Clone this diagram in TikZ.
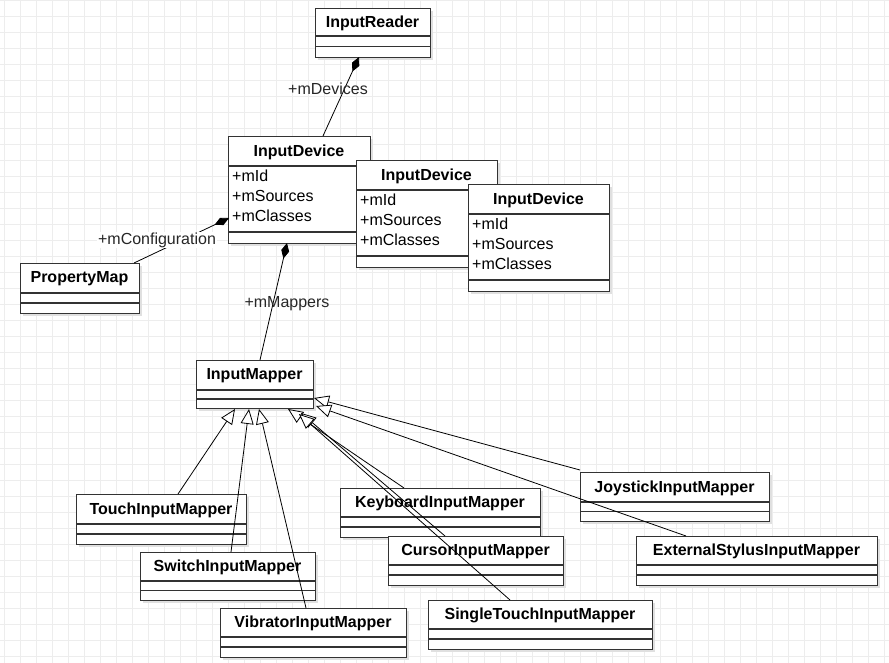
\documentclass[tikz,border=0pt]{standalone}
\usepackage{fontspec}
\setmainfont{Liberation Sans}
\usetikzlibrary{arrows.meta}
\newcommand{\umlbox}[8]{% name x1 y1 x2 y2 hdrbottom title attrs
  \fill[black!12] (#2+3,#3+3) rectangle (#4+3,#5+3);
  \node[box, minimum width={(#4-#2)*1pt}, minimum height={(#5-#3)*1pt}, anchor=north west] (#1) at (#2,#3) {};
  \node[title] at ({(#2+#4)/2},{#3+(#6-#3)/2+1}) {#7};
  \ifx&#8&
    \draw[sep] (#2,#6) -- (#4,#6);
    \draw[sep] (#2,{(#6+#5)/2}) -- (#4,{(#6+#5)/2});
  \else
    \draw[sep] (#2,#6) -- (#4,#6);
    \node[attr, anchor=north west] at (#2+2,#6+2) {#8};
    \draw[sep] (#2,#5-11) -- (#4,#5-11);
  \fi
}
\begin{document}
\begin{tikzpicture}[x=1pt,y=-1pt,
  box/.style={draw=black!80, line width=1.1pt, fill=white, inner sep=0pt},
  sep/.style={draw=black!80, line width=1.1pt},
  title/.style={font=\bfseries\fontsize{16}{18}\selectfont, inner sep=2pt},
  attr/.style={font=\fontsize{16}{20}\selectfont, align=left, inner sep=2pt},
  lbl/.style={font=\fontsize{16}{18}\selectfont, text=black!85},
  conn/.style={draw=black, line width=0.8pt},
  inh/.style={conn, -{Triangle[open, length=15pt, width=13pt, fill=white]}},
  comp/.style={conn, -{Diamond[length=16pt, width=8pt]}}]
\useasboundingbox (0,0) rectangle (889,663);
\fill[white] (0,0) rectangle (889,663);
\foreach \gx in {4,20,...,889} \draw[black!7, line width=0.8pt] (\gx,0) -- (\gx,663);
\foreach \gy in {0,16,...,663} \draw[black!7, line width=0.8pt] (0,\gy) -- (889,\gy);

\umlbox{reader}{315}{8}{430}{57}{36}{InputReader}{}
\umlbox{dev1}{228}{136}{370}{243}{166}{InputDevice}{+mId\\+mSources\\+mClasses}
\umlbox{dev2}{356}{160}{497}{267}{190}{InputDevice}{+mId\\+mSources\\+mClasses}
\umlbox{dev3}{468}{184}{609}{291}{214}{InputDevice}{+mId\\+mSources\\+mClasses}
\umlbox{pmap}{20}{263}{139}{313}{293}{PropertyMap}{}
\umlbox{mapper}{196}{360}{313}{408}{390}{InputMapper}{}
\umlbox{touch}{76}{494}{246}{544}{524}{TouchInputMapper}{}
\umlbox{switch}{140}{552}{315}{600}{581}{SwitchInputMapper}{}
\umlbox{vib}{220}{608}{406}{657}{637}{VibratorInputMapper}{}
\umlbox{key}{340}{488}{540}{537}{517}{KeyboardInputMapper}{}
\umlbox{cursor}{388}{536}{563}{585}{565}{CursorInputMapper}{}
\umlbox{single}{428}{600}{652}{649}{629}{SingleTouchInputMapper}{}
\umlbox{joy}{580}{472}{769}{521}{502}{JoystickInputMapper}{}
\umlbox{ext}{636}{536}{877}{585}{565}{ExternalStylusInputMapper}{}

\coordinate (a1) at (323,136); \coordinate (a2) at (359,57);
\draw[comp] (a1) -- (a2);
\node[lbl] at (328,89) {+mDevices};
\coordinate (b1) at (134,263); \coordinate (b2) at (229,218);
\draw[comp] (b1) -- (b2);
\node[lbl, fill=white, inner sep=1pt] at (157,240) {+mConfiguration};
\coordinate (c1) at (260,360); \coordinate (c2) at (287,243);
\draw[comp] (c1) -- (c2);
\node[lbl] at (287,304) {+mMappers};

\coordinate (t1) at (178,494); \coordinate (t2) at (235,409);
\draw[inh] (t1) -- (t2);
\coordinate (s1) at (231,552); \coordinate (s2) at (249,409);
\draw[inh] (s1) -- (s2);
\coordinate (v1) at (306,608); \coordinate (v2) at (259,409);
\draw[inh] (v1) -- (v2);
\coordinate (k1) at (404,488); \coordinate (k2) at (288,409);
\draw[inh] (k1) -- (k2);
\coordinate (cu1) at (445,536); \coordinate (cu2) at (301,413);
\draw[inh] (cu1) -- (cu2);
\coordinate (si1) at (510,600); \coordinate (si2) at (299,414);
\draw[inh] (si1) -- (si2);
\coordinate (j1) at (580,470); \coordinate (j2) at (314,398);
\draw[inh] (j1) -- (j2);
\coordinate (e1) at (686,536); \coordinate (e2) at (316,406);
\draw[inh] (e1) -- (e2);
\end{tikzpicture}
\end{document}
